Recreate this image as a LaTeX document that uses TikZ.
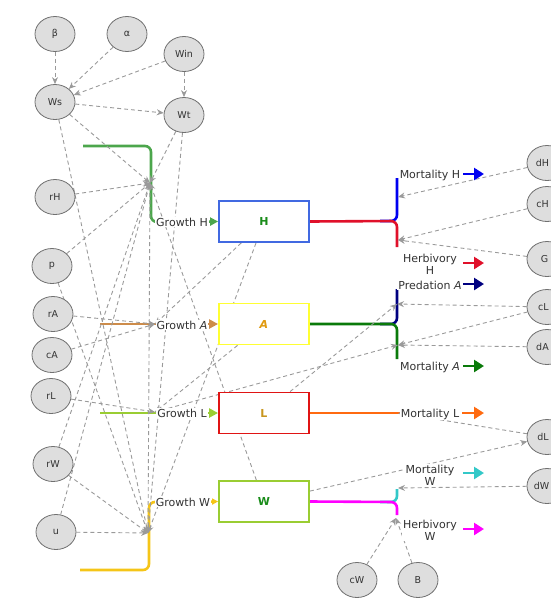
\documentclass[tikz,border=0pt]{standalone}
\usepackage{fontspec}
\setmainfont{DejaVu Sans}
\usetikzlibrary{arrows.meta,shapes.geometric}
\definecolor{vfill}{HTML}{DEDEDE}
\definecolor{vbord}{HTML}{707070}
\definecolor{lk}{HTML}{9A9A9A}
\definecolor{txt}{HTML}{333333}
\definecolor{cH}{HTML}{4169E1}
\definecolor{cA}{HTML}{FFFF33}
\definecolor{cL}{HTML}{E01414}
\definecolor{cW}{HTML}{9ACD32}
\definecolor{tG}{HTML}{1A8C1A}
\definecolor{tO}{HTML}{E09A10}
\definecolor{tL}{HTML}{C8961E}
\definecolor{gGH}{HTML}{4CA64C}
\definecolor{gGA}{HTML}{CD8C4A}
\definecolor{gGL}{HTML}{9ACD32}
\definecolor{gGW}{HTML}{F5C518}
\definecolor{oRed}{HTML}{E0102A}
\definecolor{oBlue}{HTML}{0000F0}
\definecolor{oNavy}{HTML}{000080}
\definecolor{oGreen}{HTML}{0A7A0A}
\definecolor{oOrange}{HTML}{FF6A10}
\definecolor{oMag}{HTML}{FF00FF}
\definecolor{oCyan}{HTML}{33C8C8}
\pgfdeclarelayer{bg}
\pgfsetlayers{bg,main}
\tikzset{
  var/.style={ellipse, draw=vbord, fill=vfill, line width=0.8pt, minimum width=40pt, minimum height=35pt, inner sep=0pt, font=\fontsize{9.5}{10}\selectfont, text=txt},
  stock/.style={rectangle, fill=white, line width=1.8pt, minimum width=90pt, minimum height=41pt, font=\bfseries\fontsize{11}{12}\selectfont},
  link/.style={draw=lk, dash pattern=on 4pt off 3pt, line width=0.9pt, -{Stealth[length=7pt,width=6pt]}},
  flowlbl/.style={fill=white, inner sep=1pt, font=\fontsize{11}{12}\selectfont, text=txt, align=center},
  pipe/.style={line width=2.6pt, rounded corners=6pt},
  outarrow/.style={line width=2.8pt, -{Triangle[length=10pt,width=12pt]}},
}
\begin{document}
\begin{tikzpicture}[x=1pt,y=-1pt]
\useasboundingbox (0,0) rectangle (551,600);
% variables
\node[var] (beta) at (55,34) {β};
\node[var] (alpha) at (127,34) {α};
\node[var] (Win) at (184,54) {Win};
\node[var] (Ws) at (55,102) {Ws};
\node[var] (Wt) at (184,115) {Wt};
\node[var] (rH) at (55,197) {rH};
\node[var] (p) at (52,266) {p};
\node[var] (rA) at (53,314) {rA};
\node[var] (cAv) at (52,355) {cA};
\node[var] (rL) at (51,396) {rL};
\node[var] (rW) at (53,464) {rW};
\node[var] (u) at (56,532) {u};
\node[var] (dH) at (547,163) {dH\hspace*{9pt}};
\node[var] (cHv) at (547,204) {cH\hspace*{9pt}};
\node[var] (G) at (547,259) {G\hspace*{5pt}};
\node[var] (cLv) at (547,307) {cL\hspace*{7pt}};
\node[var] (dA) at (547,347) {dA\hspace*{9pt}};
\node[var] (dL) at (547,437) {dL\hspace*{8pt}};
\node[var] (dW) at (547,486) {dW\hspace*{11pt}};
\node[var] (cWv) at (357,580) {cW};
\node[var] (B) at (418,580) {B};
% stocks
\node[stock, draw=cH, text=tG] (H) at (264,221.5) {H};
\node[stock, draw=cA, text=tO] (A) at (264,324) {\itshape A};
\node[stock, draw=cL, text=tL] (L) at (264,413) {L};
\node[stock, draw=cW, text=tG] (W) at (264,501.5) {W};
% flow valves
\coordinate (gH) at (150,183);
\coordinate (gA) at (155,324);
\coordinate (gL) at (155,412);
\coordinate (gW) at (148,533);
\coordinate (mH) at (398,197);
\coordinate (hH) at (398,240);
\coordinate (pA) at (397,304);
\coordinate (mA) at (398,345);
\coordinate (mL) at (398,413);
\coordinate (mW) at (398,488);
\coordinate (hW) at (396,518);
% flow labels
\node[flowlbl] (lGH) at (182,222) {Growth H};
\node[flowlbl] (lGA) at (182,325) {Growth \itshape A};
\node[flowlbl] (lGL) at (182,413) {Growth L};
\node[flowlbl] (lGW) at (183,502) {Growth W};
\node[flowlbl] (lMH) at (430,175) {Mortality H};
\node[flowlbl] (lHH) at (430,264) {Herbivory\\H};
\node[flowlbl] (lPA) at (430,285) {Predation \itshape A};
\node[flowlbl] (lMA) at (430,367) {Mortality \itshape A};
\node[flowlbl] (lML) at (430,414) {Mortality L};
\node[flowlbl] (lMW) at (430,475) {Mortality\\W};
\node[flowlbl] (lHW) at (430,530) {Herbivory\\W};
\begin{pgfonlayer}{bg}
% inflow pipes
\draw[pipe, gGH, -{Triangle[length=8pt,width=8pt]}] (83,146) -- (151,146) -- (151,222) -- (H.west);
\draw[pipe, gGA, -{Triangle[length=9pt,width=9pt]}] (100,324) -- (A.west);
\draw[pipe, gGL, -{Triangle[length=9pt,width=9pt]}] (100,413) -- (L.west);
\draw[pipe, gGW, -{Triangle[length=6pt,width=6pt]}] (80,570) -- (149,570) -- (149,502) -- (W.west);
% outflow pipes
\draw[pipe, oBlue] (380,221) -- (397,221) -- (397,178);
\draw[pipe, oRed] (H.east) -- (397,221) -- (397,247);
\draw[pipe, oNavy] (380,324) -- (397,324) -- (397,289);
\draw[pipe, oGreen] (A.east) -- (397,324) -- (397,359);
\draw[pipe, oOrange] (L.east) -- (400,413);
\draw[pipe, oCyan] (380,502) -- (397,502) -- (397,489);
\draw[pipe, oMag] (W.east) -- (397,502) -- (397,515);
% links
\draw[link] (beta) -- (Ws);
\draw[link] (alpha) -- (Ws);
\draw[link] (Win) -- (Ws);
\draw[link] (Win) -- (Wt);
\draw[link] (Ws) -- (Wt);
\draw[link] (Ws) -- (gH);
\draw[link] (Wt) -- (gH);
\draw[link] (rH) -- (gH);
\draw[link] (p) -- (gH);
\draw[link] (rW) -- (gH);
\draw[link] (u) -- (gH);
\draw[link] (W) -- (gH);
\draw[link] (gW) -- (gH);
\draw[link] (Ws) -- (gW);
\draw[link] (Wt) -- (gW);
\draw[link] (p) -- (gW);
\draw[link] (rW) -- (gW);
\draw[link] (u) -- (gW);
\draw[link] (H) -- (gW);
\draw[link] (H) -- (gA);
\draw[link] (rA) -- (gA);
\draw[link] (cAv) -- (gA);
\draw[link] (rL) -- (gL);
\draw[link] (A) -- (gL);
\draw[link] (L) -- (pA);
\draw[link] (gL) -- (mA);
\draw[link] (cLv) -- (pA);
\draw[link] (cLv) -- (mA);
\draw[link] (dA) -- (mA);
\draw[link] (dH) -- (mH);
\draw[link] (cHv) -- (hH);
\draw[link] (G) -- (hH);
\draw[link] (dL) -- (mL);
\draw[link] (W) -- (dL);
\draw[link] (dW) -- (mW);
\draw[link] (cWv) -- (hW);
\draw[link] (B) -- (hW);
\end{pgfonlayer}
% outflow arrows
\draw[outarrow, oBlue] (463,174) coordinate (aMH0) -- (484,174) coordinate (aMH);
\draw[outarrow, oRed] (463,263) coordinate (aHH0) -- (484,263) coordinate (aHH);
\draw[outarrow, oNavy] (463,284) coordinate (aPA0) -- (484,284) coordinate (aPA);
\draw[outarrow, oGreen] (463,366) coordinate (aMA0) -- (484,366) coordinate (aMA);
\draw[outarrow, oOrange] (462,413) coordinate (aML0) -- (484,413) coordinate (aML);
\draw[outarrow, oCyan] (463,473) coordinate (aMW0) -- (484,473) coordinate (aMW);
\draw[outarrow, oMag] (463,529) coordinate (aHW0) -- (484,529) coordinate (aHW);
\end{tikzpicture}
\end{document}
